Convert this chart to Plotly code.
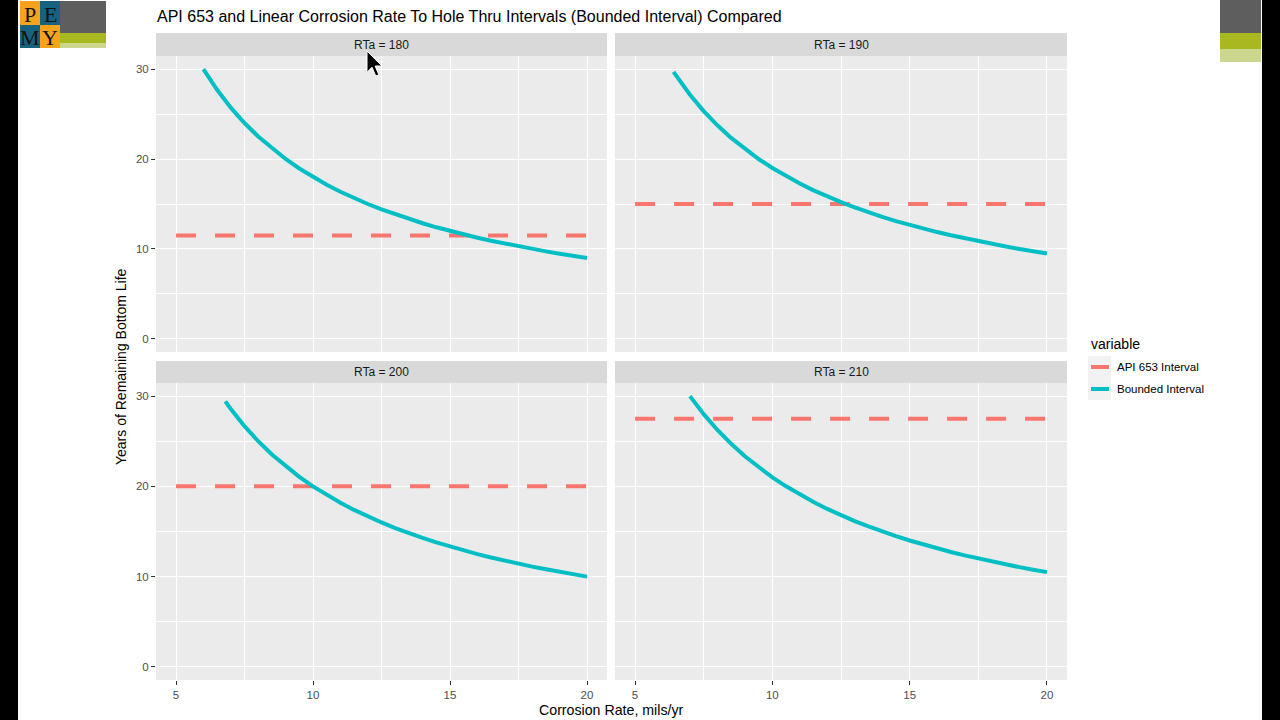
import plotly.graph_objects as go

# ---------------- data ----------------
rta_labels = ["RTa = 180", "RTa = 190", "RTa = 200", "RTa = 210"]

api_rate = [5, 20]
api_interval = [11.5, 15.0, 20.0, 27.5]

rate_180 = [6.0, 6.5, 7.0, 7.5, 8.0, 8.5, 9.0, 9.5, 10.0, 10.5, 11.0, 11.5, 12.0, 12.5, 13.0,
            13.5, 14.0, 14.5, 15.0, 15.5, 16.0, 16.5, 17.0, 17.5, 18.0, 18.5, 19.0, 19.5, 20.0]
life_180 = [30.0, 27.69, 25.71, 24.0, 22.5, 21.18, 20.0, 18.95, 18.0, 17.14, 16.36, 15.65, 15.0, 14.4, 13.85,
            13.33, 12.86, 12.41, 12.0, 11.61, 11.25, 10.91, 10.59, 10.29, 10.0, 9.73, 9.47, 9.23, 9.0]

rate_190 = [6.4, 7.0, 7.5, 8.0, 8.5, 9.0, 9.5, 10.0, 10.5, 11.0, 11.5, 12.0, 12.5, 13.0,
            13.5, 14.0, 14.5, 15.0, 15.5, 16.0, 16.5, 17.0, 17.5, 18.0, 18.5, 19.0, 19.5, 20.0]
life_190 = [29.69, 27.14, 25.33, 23.75, 22.35, 21.11, 20.0, 19.0, 18.10, 17.27, 16.52, 15.83, 15.2, 14.62,
            14.07, 13.57, 13.10, 12.67, 12.26, 11.88, 11.52, 11.18, 10.86, 10.56, 10.27, 10.0, 9.74, 9.5]

rate_200 = [6.8, 7.0, 7.5, 8.0, 8.5, 9.0, 9.5, 10.0, 10.5, 11.0, 11.5, 12.0, 12.5, 13.0,
            13.5, 14.0, 14.5, 15.0, 15.5, 16.0, 16.5, 17.0, 17.5, 18.0, 18.5, 19.0, 19.5, 20.0]
life_200 = [29.41, 28.57, 26.67, 25.0, 23.53, 22.22, 21.05, 20.0, 19.05, 18.18, 17.39, 16.67, 16.0, 15.38,
            14.81, 14.29, 13.79, 13.33, 12.90, 12.5, 12.12, 11.76, 11.43, 11.11, 10.81, 10.53, 10.26, 10.0]

rate_210 = [7.0, 7.5, 8.0, 8.5, 9.0, 9.5, 10.0, 10.5, 11.0, 11.5, 12.0, 12.5, 13.0,
            13.5, 14.0, 14.5, 15.0, 15.5, 16.0, 16.5, 17.0, 17.5, 18.0, 18.5, 19.0, 19.5, 20.0]
life_210 = [30.0, 28.0, 26.25, 24.71, 23.33, 22.11, 21.0, 20.0, 19.09, 18.26, 17.5, 16.8, 16.15,
            15.56, 15.0, 14.48, 14.0, 13.55, 13.13, 12.73, 12.35, 12.0, 11.67, 11.35, 11.05, 10.77, 10.5]

x_ticks = [5, 10, 15, 20]
y_ticks = [0, 10, 20, 30]
legend_names = ["API 653 Interval", "Bounded Interval"]
title_text = "API 653 and Linear Corrosion Rate To Hole Thru Intervals (Bounded Interval) Compared"

# ---------------- styling ----------------
W, H = 1280, 720
RED = "#F8766D"
CYAN = "#00BFC4"
FONT = "Liberation Sans, Arial, sans-serif"

def px(x):
    return x / W

def py(y):
    return 1 - y / H

rates = [rate_180, rate_190, rate_200, rate_210]
lives = [life_180, life_190, life_200, life_210]

# panel pixel boxes (left, right, top, bottom)
cols = [(156, 607), (615, 1067)]
rows = [(56, 352), (383, 680)]
strips = [(33, 56), (361, 383)]

fig = go.Figure()

for i in range(4):
    suffix = "" if i == 0 else str(i + 1)
    xa, ya = "x" + suffix, "y" + suffix
    fig.add_trace(go.Scatter(x=api_rate, y=[api_interval[i]] * 2, mode="lines",
                             line=dict(color=RED, width=4, dash="20px,19px"),
                             xaxis=xa, yaxis=ya, showlegend=False, hoverinfo="skip"))
    fig.add_trace(go.Scatter(x=rates[i], y=lives[i], mode="lines",
                             line=dict(color=CYAN, width=4),
                             xaxis=xa, yaxis=ya, showlegend=False, hoverinfo="skip"))

layout = dict(
    width=W, height=H, margin=dict(l=0, r=0, t=0, b=0),
    paper_bgcolor="white", plot_bgcolor="#EBEBEB",
    font=dict(family=FONT, color="#4D4D4D", size=11),
    showlegend=False,
)

for i in range(4):
    r, c = divmod(i, 2)
    suffix = "" if i == 0 else str(i + 1)
    xl, xr = cols[c]
    yt, yb = rows[r]
    layout["xaxis" + suffix] = dict(
        domain=[px(xl), px(xr)], range=[4.27, 20.73], anchor="y" + suffix,
        tickmode="array", tickvals=x_ticks, ticktext=[str(v) for v in x_ticks],
        showticklabels=(r == 1), ticks="outside" if r == 1 else "",
        ticklen=4, tickcolor="#333333", tickwidth=1,
        showgrid=True, gridcolor="white", gridwidth=1.1, zeroline=False, showline=False,
        minor=dict(tickvals=[7.5, 12.5, 17.5], showgrid=True, gridcolor="white", gridwidth=0.5, ticks=""),
        tickfont=dict(size=11.5, color="#4D4D4D"),
    )
    layout["yaxis" + suffix] = dict(
        domain=[py(yb), py(yt)], range=[-1.45, 31.45], anchor="x" + suffix,
        tickmode="array", tickvals=y_ticks, ticktext=[str(v) for v in y_ticks],
        showticklabels=(c == 0), ticks="outside" if c == 0 else "",
        ticklen=4, tickcolor="#333333", tickwidth=1,
        showgrid=True, gridcolor="white", gridwidth=1.1, zeroline=False, showline=False,
        minor=dict(tickvals=[5, 15, 25], showgrid=True, gridcolor="white", gridwidth=0.5, ticks=""),
        tickfont=dict(size=11.5, color="#4D4D4D"),
    )

shapes = []
annotations = []

def note(x, y, text, size, color="black", xanchor="center", family=FONT, angle=0):
    annotations.append(dict(x=px(x), y=py(y), xref="paper", yref="paper", xanchor=xanchor,
                            yanchor="middle", text=text, showarrow=False, textangle=angle,
                            font=dict(size=size, color=color, family=family)))

# strips
for i in range(4):
    r, c = divmod(i, 2)
    xl, xr = cols[c]
    st, sb = strips[r]
    shapes.append(dict(type="rect", xref="paper", yref="paper", x0=px(xl), x1=px(xr),
                       y0=py(sb), y1=py(st), fillcolor="#D9D9D9", line=dict(width=0), layer="below"))
    note((xl + xr) / 2, (st + sb) / 2, rta_labels[i], 12, "#1A1A1A")

# title and axis titles
note(155, 16, title_text, 16, xanchor="left")
note(611, 710, "Corrosion Rate, mils/yr", 14.2)
note(121, 367, "Years of Remaining Bottom Life", 14)

annotations[-1]["textangle"] = -90

# legend (drawn manually, ggplot style)
note(1089, 344, "variable", 14, xanchor="left")
for k, (name, col) in enumerate(zip(legend_names, [RED, CYAN])):
    top = 356 + 22 * k
    shapes.append(dict(type="rect", xref="paper", yref="paper", x0=px(1088), x1=px(1111),
                       y0=py(top + 22), y1=py(top), fillcolor="#F2F2F2", line=dict(width=0)))
    shapes.append(dict(type="line", xref="paper", yref="paper", x0=px(1091), x1=px(1109),
                       y0=py(top + 11), y1=py(top + 11), line=dict(color=col, width=4)))
    note(1115, top + 11, name, 11.5, xanchor="left")

# page frame: black side bars
shapes.append(dict(type="rect", xref="paper", yref="paper", x0=0, x1=px(18), y0=0, y1=1,
                   fillcolor="black", line=dict(width=0)))
shapes.append(dict(type="rect", xref="paper", yref="paper", x0=px(1262), x1=1, y0=0, y1=1,
                   fillcolor="black", line=dict(width=0)))

# logo top-left
ORANGE, TEAL = "#F5A21E", "#17627F"
GREY, LIME, LLIME = "#5E5E5E", "#A8B820", "#CDD68E"
logo_cells = [(20, 40, 1, 25, ORANGE, "P"), (40, 60, 1, 25, TEAL, "E"),
              (20, 40, 25, 48, TEAL, "M"), (40, 60, 25, 48, ORANGE, "Y")]
for x0, x1, y0, y1, colr, letter in logo_cells:
    shapes.append(dict(type="rect", xref="paper", yref="paper", x0=px(x0), x1=px(x1),
                       y0=py(y1), y1=py(y0), fillcolor=colr, line=dict(width=0)))
    note((x0 + x1) / 2, (y0 + y1) / 2 + 1, letter, 22, "#111111", family="Liberation Serif, serif")
for x0, x1, y0, y1, colr in [(60, 106, 1, 33, GREY), (60, 106, 33, 43, LIME), (60, 106, 43, 48, LLIME),
                             (1220, 1261, 0, 33, GREY), (1220, 1261, 33, 49, LIME), (1220, 1261, 49, 62, LLIME)]:
    shapes.append(dict(type="rect", xref="paper", yref="paper", x0=px(x0), x1=px(x1),
                       y0=py(y1), y1=py(y0), fillcolor=colr, line=dict(width=0)))

# mouse pointer seen in the screenshot
tip_x, tip_y, s = 367, 51, 1.25
arrow = [(0, 0), (0, 17), (4, 13), (7, 20), (9.5, 19), (6.5, 12), (12, 12)]
path = "M " + " L ".join(f"{px(tip_x + s * ax):.5f},{py(tip_y + s * ay):.5f}" for ax, ay in arrow) + " Z"
shapes.append(dict(type="path", xref="paper", yref="paper", path=path,
                   fillcolor="black", line=dict(color="white", width=1)))

layout["shapes"] = shapes
layout["annotations"] = annotations
fig.update_layout(**layout)

fig.write_html("out.html", config={"displayModeBar": False},
               post_script="document.body.style.margin='0';document.body.style.overflow='hidden';")
